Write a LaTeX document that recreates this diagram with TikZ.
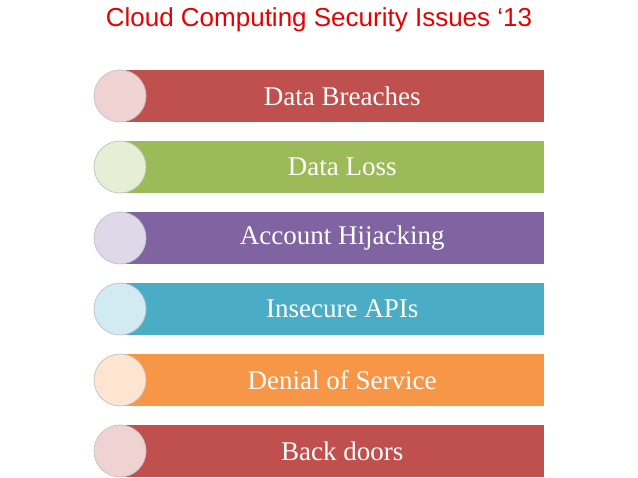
\documentclass[tikz,border=0pt]{standalone}
\usepackage{fontspec}
\setmainfont{Liberation Serif}
\newfontfamily\titlefont{Liberation Sans}
\begin{document}
\begin{tikzpicture}[x=1pt,y=-1pt,
  bar/.style={minimum width=424pt,minimum height=52pt,anchor=west,inner sep=0pt,text=white,font=\fontsize{27}{30}\selectfont},
  dot/.style={circle,minimum size=52pt,inner sep=0pt,draw=gray!45,line width=0.8pt}]
\useasboundingbox (0,0) rectangle (638,478);
\node[font=\titlefont\fontsize{26}{30}\selectfont,text={rgb,255:red,230;green,0;blue,0}] (title) at (319,20) {Cloud Computing Security Issues ‘13};
\definecolor{c1}{HTML}{C0504D}\definecolor{c2}{HTML}{9BBB59}\definecolor{c3}{HTML}{8064A2}
\definecolor{c4}{HTML}{4BACC6}\definecolor{c5}{HTML}{F79646}
\foreach \i/\c/\t in {1/c1/Data Breaches,2/c2/Data Loss,3/c3/Account Hijacking,4/c4/Insecure APIs,5/c5/Denial of Service,6/c1/Back doors}{
  \pgfmathsetmacro\yy{96+71*(\i-1)}
  \node[bar,fill=\c] (b\i) at (120,\yy) {\hspace*{20pt}\t};
  \node[dot,fill=\c!25!white] (d\i) at (120,\yy) {};
}
\end{tikzpicture}
\end{document}
